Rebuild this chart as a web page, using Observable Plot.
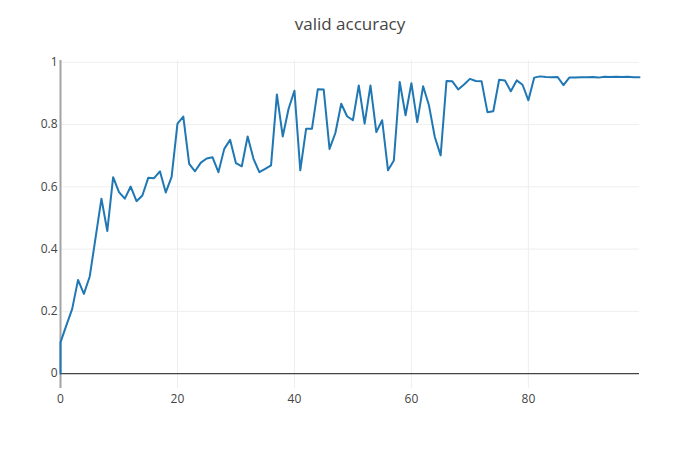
<!DOCTYPE html>
<html>
<head>
<meta charset="utf-8">
<script src="https://cdn.jsdelivr.net/npm/d3@7"></script>
<script src="https://cdn.jsdelivr.net/npm/@observablehq/plot@0.6"></script>
<style>
  body { margin: 0; background: #fff; }
  #title { height: 40px; width: 700px; text-align: center; font-family: "Open Sans", sans-serif; font-size: 17px; color: #444; line-height: 48px; }
</style>
</head>
<body>
<div id="title">valid accuracy</div>
<div id="chart"></div>
<script>
const titleText = "valid accuracy";
// epoch 0 appears twice in the trace (starts at 0, then 0.10)
const epochs = [0, ...d3.range(100)];
const accuracy = [0,
  0.100, 0.155, 0.208, 0.301, 0.256, 0.312, 0.437, 0.562, 0.458, 0.631,
  0.583, 0.562, 0.601, 0.554, 0.572, 0.629, 0.628, 0.650, 0.582, 0.632,
  0.803, 0.826, 0.674, 0.650, 0.678, 0.691, 0.695, 0.647, 0.722, 0.751,
  0.676, 0.666, 0.762, 0.690, 0.647, 0.658, 0.669, 0.897, 0.762, 0.851,
  0.909, 0.653, 0.787, 0.787, 0.914, 0.913, 0.722, 0.773, 0.867, 0.827,
  0.814, 0.926, 0.803, 0.926, 0.776, 0.814, 0.653, 0.685, 0.937, 0.830,
  0.933, 0.808, 0.923, 0.862, 0.760, 0.701, 0.940, 0.939, 0.913, 0.929,
  0.947, 0.940, 0.939, 0.840, 0.843, 0.944, 0.942, 0.907, 0.942, 0.928,
  0.878, 0.951, 0.955, 0.953, 0.952, 0.953, 0.927, 0.951, 0.951, 0.952,
  0.952, 0.953, 0.951, 0.954, 0.953, 0.954, 0.953, 0.954, 0.952, 0.952
];
const xTicks = [0, 20, 40, 60, 80];
const yTicks = [0, 0.2, 0.4, 0.6, 0.8, 1];
const xTickLabels = ["0", "20", "40", "60", "80"];
const yTickLabels = ["0", "0.2", "0.4", "0.6", "0.8", "1"];

document.getElementById("title").textContent = titleText;
const data = epochs.map((e, i) => ({epoch: e, acc: accuracy[i]}));

const chart = Plot.plot({
  width: 700,
  height: 410,
  marginLeft: 60,
  marginRight: 61,
  marginTop: 20,
  marginBottom: 62,
  style: {fontFamily: "'Open Sans', sans-serif", fontSize: "12px", color: "#444", background: "#fff"},
  x: {domain: [0, 99], label: null},
  y: {domain: [-0.048, 1.006], label: null},
  marks: [
    Plot.gridY(yTicks.filter(d => d !== 0), {stroke: "#eee", strokeOpacity: 1}),
    Plot.gridX(xTicks.filter(d => d !== 0), {stroke: "#eee", strokeOpacity: 1}),
    Plot.ruleX([0], {stroke: "#a3a3a3", strokeWidth: 2}),
    Plot.ruleY([0], {stroke: "#444", strokeWidth: 1.2}),
    Plot.line(data, {x: "epoch", y: "acc", stroke: "#1f77b4", strokeWidth: 2, strokeLinejoin: "round"}),
    Plot.axisX(xTicks, {tickSize: 0, tickPadding: 6, tickFormat: (d, i) => xTickLabels[i], fill: "#444", fontSize: 12}),
    Plot.axisY(yTicks, {tickSize: 0, tickPadding: 3, tickFormat: (d, i) => yTickLabels[i], fill: "#444", fontSize: 12})
  ]
});
document.getElementById("chart").appendChild(chart);
</script>
</body>
</html>
